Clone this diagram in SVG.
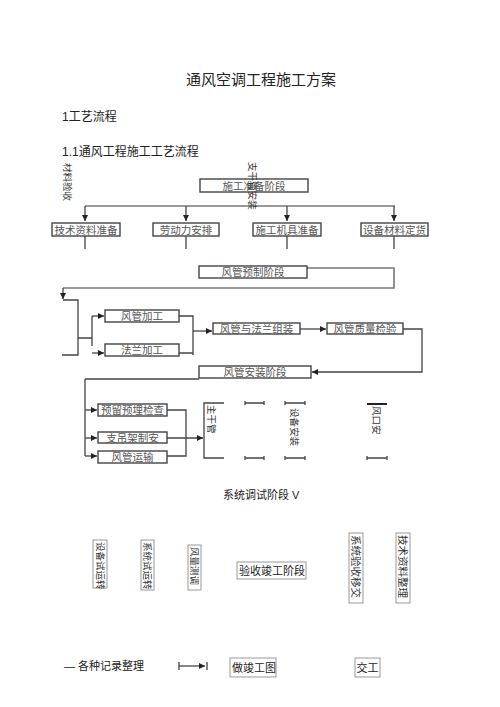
<svg xmlns="http://www.w3.org/2000/svg" width="500" height="707" viewBox="0 0 500 707">
<defs>
<marker id="ah" viewBox="0 0 8 8" refX="8" refY="4" markerWidth="6" markerHeight="6" orient="auto" markerUnits="userSpaceOnUse"><path d="M0,0 L8,4 L0,8 z" fill="#222"/></marker>
<style>
.sans{font-family:"Liberation Sans","Noto Sans CJK SC",sans-serif;fill:#222}
.ser{font-family:"Liberation Serif","Noto Sans CJK SC",serif;fill:#555;font-size:10.5px}
.bx{fill:#fff;stroke:#444;stroke-width:1.4}
.gb{fill:#fff;stroke:#999;stroke-width:1}
.ln{fill:none;stroke:#444;stroke-width:1.3}
.lg{fill:none;stroke:#777;stroke-width:1.6}
.ar{marker-end:url(#ah)}
.vt{font-family:"Liberation Sans","Noto Sans CJK SC",sans-serif;fill:#333}
</style>
</defs>
<rect width="500" height="707" fill="#fff"/>
<g id="headings">
<text class="sans" x="261" y="85" font-size="15" text-anchor="middle">通风空调工程施工方案</text>
<text class="sans" x="62" y="121" font-size="12">1工艺流程</text>
<text class="sans" x="62" y="156" font-size="12">1.1通风工程施工工艺流程</text>
<text class="vt" transform="translate(64,163) rotate(90)" font-size="9.5">材料验收</text>
</g>
<g id="connectors">
<path class="lg" d="M85,206 H395"/>
<path class="ln ar" d="M85,206 V221"/>
<path class="ln ar" d="M186,206 V221"/>
<path class="ln ar" d="M287,206 V221"/>
<path class="ln ar" d="M394,206 V221"/>
<path class="ln" d="M85,236 V249 M186,236 V249 M287,236 V249 M394,236 V249"/>
<path class="lg" d="M307,268 H394 V288 H63"/>
<path class="ln ar" d="M63,288 V299"/>
<path class="ln" d="M63,300 H78 V355 H62"/>
<path class="ln" d="M78,338 H92 M92,316 V346"/>
<path class="ln ar" d="M92,316 H104"/>
<path class="ln ar" d="M92,353 H104"/>
<path class="ln" d="M179,316 H193 V355 M179,353 H193"/>
<path class="ln ar" d="M193,331 H212"/>
<path class="ln ar" d="M300,329 H326"/>
<path class="ln ar" d="M403,329 H422 V372 H312"/>
<path class="ln" d="M85,379 H199 M85,379 V456"/>
<path class="ln ar" d="M85,410 H97"/>
<path class="ln ar" d="M85,438 H97"/>
<path class="ln ar" d="M85,456 H97"/>
<path class="ln" d="M167,410 H186 V456 H167"/>
<path class="ln ar" d="M167,438 H203"/>
<path class="ln" d="M224,403 H204 V458 H224"/>
<path class="ln" d="M245,403 H264 M245,458 H264 M245,401 V405 M264,401 V405 M245,456 V460 M264,456 V460"/>
<path class="ln" d="M285,403 H305 M285,458 H305 M285,401 V405 M305,401 V405 M285,456 V460 M305,456 V460"/>
<path class="ln" d="M367,458 H387 M367,456 V460 M387,456 V460"/>
<path d="M367,404 H387" stroke="#222" stroke-width="2"/>
<path class="ln ar" d="M179,666 H205"/>
<path class="ln" d="M179,662 V670 M207,662 V670"/>
</g>
<g id="n-prep"><rect class="bx" x="200" y="179" width="108" height="13"/><text class="ser" x="254" y="189.5" text-anchor="middle">施工准备阶段</text></g>
<g id="n-branch"><text class="vt" transform="translate(249,162) rotate(90)" font-size="9.5">支干管安装</text></g>
<g id="n-jszl"><rect class="bx" x="52" y="223" width="68" height="13"/><text class="ser" x="86" y="233.5" text-anchor="middle">技术资料准备</text></g>
<g id="n-ldl"><rect class="bx" x="153" y="223" width="66" height="13"/><text class="ser" x="186" y="233.5" text-anchor="middle">劳动力安排</text></g>
<g id="n-jj"><rect class="bx" x="253" y="223" width="68" height="13"/><text class="ser" x="287" y="233.5" text-anchor="middle">施工机具准备</text></g>
<g id="n-sbcl"><rect class="bx" x="361" y="223" width="67" height="13"/><text class="ser" x="394.5" y="233.5" text-anchor="middle">设备材料定货</text></g>
<g id="n-yzjd"><rect class="bx" x="199" y="266" width="108" height="12"/><text class="ser" x="253" y="276" text-anchor="middle">风管预制阶段</text></g>
<g id="n-fgjg"><rect class="bx" x="105" y="310" width="74" height="12"/><text class="ser" x="142" y="320" text-anchor="middle">风管加工</text></g>
<g id="n-fljg"><rect class="bx" x="105" y="344" width="74" height="12"/><text class="ser" x="142" y="354" text-anchor="middle">法兰加工</text></g>
<g id="n-zz"><rect class="bx" x="213" y="323" width="87" height="11"/><text class="ser" x="256.5" y="332.5" text-anchor="middle">风管与法兰组装</text></g>
<g id="n-zl"><rect class="bx" x="327" y="323" width="76" height="11"/><text class="ser" x="365" y="332.5" text-anchor="middle">风管质量检验</text></g>
<g id="n-azjd"><rect class="bx" x="199" y="366" width="112" height="12"/><text class="ser" x="255" y="376" text-anchor="middle">风管安装阶段</text></g>
<g id="n-yl"><rect class="bx" x="98" y="404" width="69" height="12"/><text class="ser" x="132.5" y="414" text-anchor="middle">预留预埋检查</text></g>
<g id="n-zd"><rect class="bx" x="98" y="432" width="69" height="11"/><text class="ser" x="132.5" y="441.5" text-anchor="middle">支吊架制安</text></g>
<g id="n-ys"><rect class="bx" x="98" y="451" width="69" height="12"/><text class="ser" x="132.5" y="461" text-anchor="middle">风管运输</text></g>
<g id="n-zgg"><text class="vt" transform="translate(208,405) rotate(90)" font-size="9.5">主干管</text></g>
<g id="n-sbaz"><text class="vt" transform="translate(291,408) rotate(90)" font-size="9.5">设备安装</text></g>
<g id="n-fka"><text class="vt" transform="translate(373,406) rotate(90)" font-size="9.5">风口安</text></g>
<g id="n-ts"><text class="sans" x="223" y="499" font-size="11">系统调试阶段 V</text></g>
<g id="n-sbsyz"><rect class="gb" x="93" y="540" width="14" height="48"/><text class="vt" transform="translate(96.5,542) rotate(90)" font-size="9.5">设备试运转</text></g>
<g id="n-xtsyz"><rect class="gb" x="141" y="540" width="13" height="50"/><text class="vt" transform="translate(144,542) rotate(90)" font-size="9.5">系统试运转</text></g>
<g id="n-flct"><rect class="gb" x="188" y="545" width="13" height="45"/><text class="vt" transform="translate(191,547) rotate(90)" font-size="9.5">风量测调</text></g>
<g id="n-ysjg"><rect class="gb" x="237" y="562" width="69" height="17"/><text class="sans" x="239" y="575" font-size="11">验收竣工阶段</text></g>
<g id="n-xtys"><rect class="gb" x="349" y="533" width="14" height="70"/><text class="vt" transform="translate(351.5,535) rotate(90)" font-size="10.5">系统验收移交</text></g>
<g id="n-jszlzl"><rect class="gb" x="396" y="533" width="14" height="70"/><text class="vt" transform="translate(398.5,535) rotate(90)" font-size="10.5">技术资料整理</text></g>
<g id="n-jl"><text class="sans" x="64" y="670" font-size="11">— 各种记录整理</text></g>
<g id="n-jgt"><rect class="gb" x="230" y="658" width="46" height="19"/><text class="sans" x="232" y="671.5" font-size="11">做竣工图</text></g>
<g id="n-jg"><rect class="gb" x="355" y="658" width="25" height="19"/><text class="sans" x="356.5" y="671.5" font-size="11">交工</text></g>
</svg>
